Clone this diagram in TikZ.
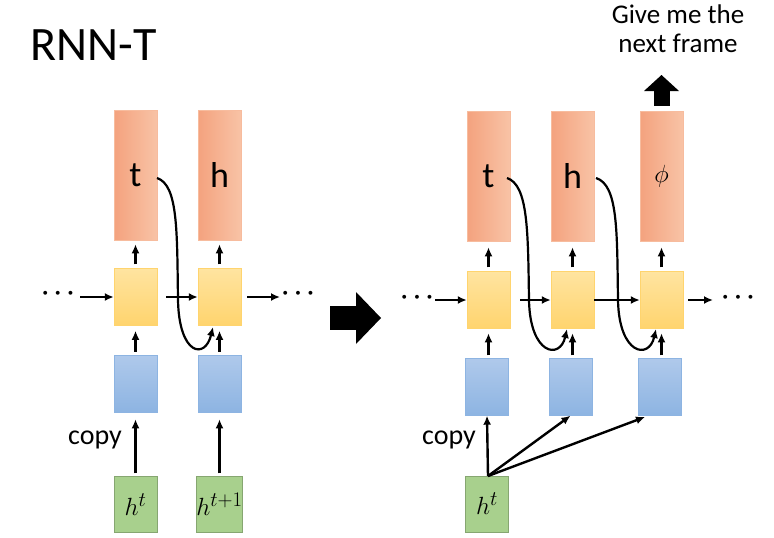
\documentclass[tikz,border=0pt]{standalone}
\usepackage{fontspec}
\setmainfont{Carlito}
\usetikzlibrary{arrows.meta}
\definecolor{orL}{HTML}{F4A27E}\definecolor{orR}{HTML}{F8C3A6}
\definecolor{yeT}{HTML}{FFE4A0}\definecolor{yeB}{HTML}{FFD46E}
\definecolor{blT}{HTML}{AFC9EB}\definecolor{blB}{HTML}{8DB4E2}
\definecolor{gr}{HTML}{A8D08D}
\begin{document}
\begin{tikzpicture}[x=1pt,y=-1pt,
 orb/.style={draw=orR!80!orL,left color=orL,right color=orR,minimum width=43pt,minimum height=130pt,inner sep=0pt,font=\fontsize{36}{36}\selectfont},
 yeb/.style={draw=yeB,top color=yeT,bottom color=yeB,minimum width=43pt,minimum height=57pt,inner sep=0pt},
 blb/.style={draw=blB,top color=blT,bottom color=blB,minimum width=43pt,minimum height=57pt,inner sep=0pt},
 grb/.style={draw=gr!80!black,fill=gr,minimum width=43pt,minimum height=56pt,inner sep=0pt,font=\fontsize{32}{32}\selectfont},
 ar/.style={-{Latex[length=9pt,width=8pt]},line width=2.4pt},
 dots/.style={font=\fontsize{24}{24}\selectfont\boldmath},
 lab/.style={font=\fontsize{28}{28}\selectfont}]
\useasboundingbox (0,0) rectangle (774,538);
\node[anchor=west,font=\fontsize{48}{48}\selectfont] (title) at (27,45) {RNN-T};
% left
\node[orb] (o1) at (135.5,175) {t};
\node[orb] (o2) at (219.5,175) {h};
\node[yeb] (y1) at (135.5,297) {};
\node[yeb] (y2) at (219.5,297) {};
\node[blb] (b1) at (135.5,383.5) {};
\node[blb] (b2) at (219.5,383.5) {};
\node[grb] (g1) at (135.5,504.5) {$h^t$};
\node[grb] (g2) at (219.5,504.5) {$h^{t+1}$};
\node[dots] (ld1) at (58,294) {$\cdots$};
\node[dots] (ld2) at (298,294) {$\cdots$};
\node[lab] (c1) at (95,440) {copy};
\coordinate (la) at (80,297); \coordinate (lb) at (247,297); \coordinate (lc) at (280,297);
\draw[ar] (la) -- (y1);
\draw[ar] (y1.east)++(9,0) -- (y2);
\draw[ar] (lb) -- (lc);
\foreach \i in {1,2}{\draw[ar] (y\i.north)++(0,-4) -- ++(0,-20);
 \draw[ar] (b\i.north)++(0,-3) -- ++(0,-21);
 \draw[ar] (g\i.north)++(0,-3) -- ++(0,-54);}
\coordinate (lt) at (157,178);
\draw[ar,line width=2.2pt] (lt) .. controls (178,185) and (177,230) .. (178,300) .. controls (179,355) and (205,360) .. (213,327);
% big arrow
\node[fill=black,minimum width=28pt,minimum height=24pt,inner sep=0pt] (ba) at (344,318) {};
\path[fill=black] (356,292) -- (381,318) -- (356,344) -- cycle;
% right
\node[orb] (p1) at (488.5,176) {t};
\node[orb] (p2) at (572.5,176) {h};
\node[orb] (p3) at (661.5,176) {$\phi$};
\node[yeb] (z1) at (488.5,300) {};
\node[yeb] (z2) at (572.5,300) {};
\node[yeb] (z3) at (661.5,300) {};
\node[blb] (q1) at (487,387) {};
\node[blb] (q2) at (570.5,387) {};
\node[blb] (q3) at (659.5,387) {};
\node[grb] (h1) at (487,504) {$h^t$};
\node[dots] (rd1) at (417,298) {$\cdots$};
\node[dots] (rd2) at (738,298) {$\cdots$};
\node[lab] (c2) at (449,440) {copy};
\node[font=\fontsize{27}{27}\selectfont,align=center] (gm) at (678,29) {Give me the\\[2pt]next frame};
\node[fill=black,minimum width=16pt,minimum height=15pt,inner sep=0pt] (ub) at (661.5,98) {};
\path[fill=black] (644,91) -- (661.5,75) -- (679,91) -- cycle;
\coordinate (ra) at (435,300); \coordinate (rb) at (688,300); \coordinate (rc) at (713,300);
\draw[ar] (ra) -- (z1);
\draw[ar] (z1.east)++(10,0) -- (z2);
\draw[ar] (z2) -- (z3);
\draw[ar] (rb) -- (rc);
\foreach \i in {1,2,3}{\draw[ar] (z\i.north)++(0,-4) -- ++(0,-20);}
\draw[ar] (q1.north)++(1.5,-3) -- ++(0,-22);
\draw[ar] (q2.north)++(2,-3) -- ++(0,-22);
\draw[ar] (q3.north)++(2,-3) -- ++(0,-22);
\coordinate (hs) at (488,476);
\draw[ar] (hs) -- (q1.south);
\draw[ar] (hs) -- (q2.south);
\draw[ar] (hs) -- (645,417);
\coordinate (rt1) at (507,178); \coordinate (rt2) at (596,178);
\draw[ar,line width=2.2pt] (rt1) .. controls (528,185) and (528,230) .. (529,300) .. controls (530,355) and (560,360) .. (567,329);
\draw[ar,line width=2.2pt] (rt2) .. controls (618,185) and (617,230) .. (618,300) .. controls (619,355) and (649,360) .. (656,329);
\end{tikzpicture}
\end{document}
